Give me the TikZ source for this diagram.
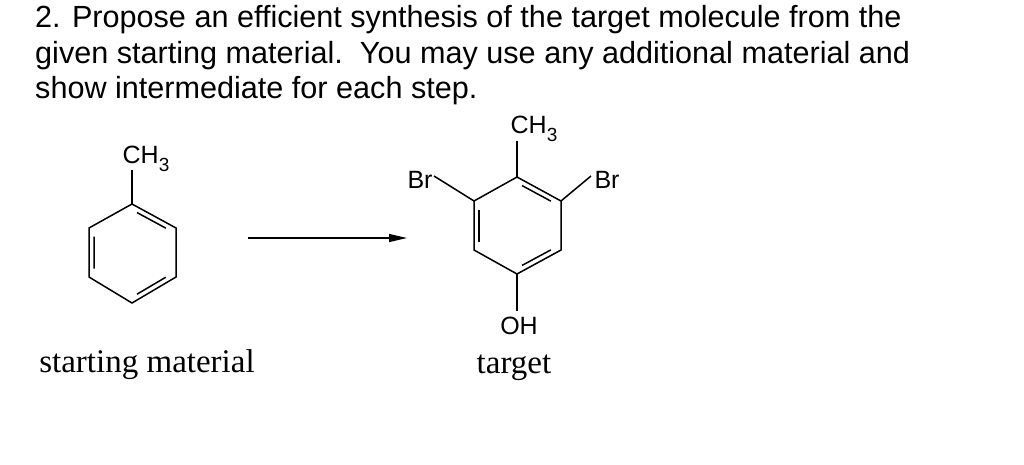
\documentclass[tikz,border=0pt]{standalone}
\usepackage{fontspec}
\setmainfont{Liberation Sans}
\newfontfamily\serifp{Liberation Serif}
\usetikzlibrary{arrows.meta,calc}
\newcommand\dblin[3]{\draw[bond] ($($(#1)!0.13!(#2)$)!5.5pt!(#3)$) -- ($($(#2)!0.13!(#1)$)!5.5pt!(#3)$);}
\newcommand\methyl{CH\raisebox{-0.3em}{\fontsize{19}{20}\selectfont 3}}
\begin{document}
\begin{tikzpicture}[x=1pt,y=-1pt,
  bond/.style={line width=1.5pt},
  lab/.style={inner sep=0pt,font=\fontsize{25}{28}\selectfont},
  captxt/.style={inner sep=0pt,font=\serifp\fontsize{33}{36}\selectfont},
  head/.style={inner sep=0pt,anchor=west,font=\fontsize{30.6}{34}\selectfont}]
\useasboundingbox (0,0) rectangle (1024,464);
\node[head] (h1) at (35,20) {2. Propose an efficient synthesis of the target molecule from the};
\node[head] (h2) at (35,56) {given starting material.\ \ You may use any additional material and};
\node[head] (h3) at (35,91) {show intermediate for each step.};
% toluene
\coordinate (a1) at (132,204); \coordinate (a2) at (176,228); \coordinate (a3) at (176,277);
\coordinate (a4) at (132,303); \coordinate (a5) at (89,277); \coordinate (a6) at (89,228);
\coordinate (ac) at (132,253.5);
\draw[bond,line join=miter] (a1)--(a2)--(a3)--(a4)--(a5)--(a6)--cycle;
\dblin{a1}{a2}{ac}\dblin{a3}{a4}{ac}\dblin{a5}{a6}{ac}
\node[lab] (c1) at (146,159) {\methyl};
\draw[bond] (132,170) -- (a1);
\node[captxt] (s) at (147,365) {starting material};
% arrow
\coordinate (r0) at (248,238); \coordinate (r1) at (407,238);
\draw[line width=1.3pt,-{Triangle[length=18pt,width=8pt]}] (r0) -- (r1);
% target
\coordinate (b1) at (517,177); \coordinate (b2) at (561,201); \coordinate (b3) at (561,250);
\coordinate (b4) at (517,274); \coordinate (b5) at (474,250); \coordinate (b6) at (474,201);
\coordinate (bc) at (517,225.5);
\draw[bond,line join=miter] (b1)--(b2)--(b3)--(b4)--(b5)--(b6)--cycle;
\dblin{b1}{b2}{bc}\dblin{b3}{b4}{bc}\dblin{b5}{b6}{bc}
\node[lab] (c2) at (534,129) {\methyl};
\draw[bond] (517,141) -- (b1);
\node[lab] (br1) at (420,180) {Br};
\node[lab] (br2) at (607,180) {Br};
\draw[bond] (434,176) -- (b6);
\draw[bond] (591,176) -- (b2);
\node[lab] (oh) at (519,326) {OH};
\draw[bond] (b4) -- (517,311);
\node[captxt] (t) at (514,368) {target};
\end{tikzpicture}
\end{document}
